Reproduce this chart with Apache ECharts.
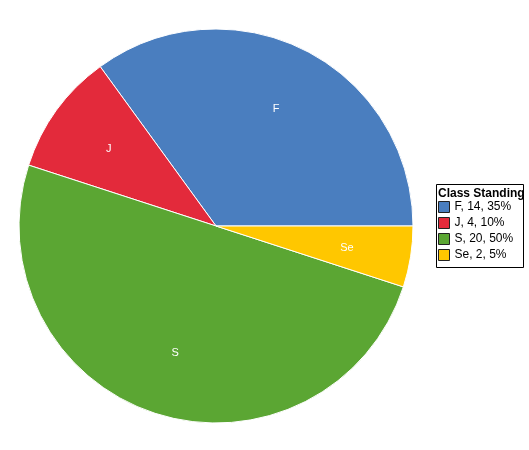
<!DOCTYPE html>
<html><head><meta charset="utf-8">
<script src="https://cdn.jsdelivr.net/npm/echarts@6/dist/echarts.min.js"></script>
<style>html,body{margin:0;padding:0;background:#fff}#c{width:529px;height:450px}</style>
</head><body><div id="c"></div>
<script>
const categories = ['F', 'J', 'S', 'Se'];
const counts = [14, 4, 20, 2];
const colors = ['#4a7ebf', '#e32a3b', '#5ba633', '#ffc700'];
const legendTitle = 'Class Standing';

const total = counts.reduce((a, b) => a + b, 0);
const data = categories.map((c, i) => ({ name: c, value: counts[i], itemStyle: { color: colors[i] } }));
const font = '"Liberation Sans", Arial, sans-serif';

const chart = echarts.init(document.getElementById('c'));
chart.setOption({
  animation: false,
  graphic: [{
    type: 'rect', silent: true, z: 0,
    shape: { x: 436.5, y: 184.5, width: 87, height: 83 },
    style: { fill: '#fff', stroke: '#000', lineWidth: 1 }
  }, {
    type: 'text', silent: true, z: 1, left: 438, top: 188,
    style: { text: legendTitle, fill: '#000', font: 'bold 12px ' + font }
  }],
  legend: {
    orient: 'vertical', left: 438, top: 201, z: 5,
    padding: 0,
    itemWidth: 11, itemHeight: 11, itemGap: 4,
    icon: 'rect',
    itemStyle: { borderColor: '#222', borderWidth: 1 },
    textStyle: { fontFamily: font, fontSize: 12, color: '#000' },
    formatter: name => {
      const i = categories.indexOf(name);
      return name + ', ' + counts[i] + ', ' + Math.round(counts[i] / total * 100) + '%';
    },
    data: categories
  },
  series: [{
    type: 'pie', center: [216, 226], radius: [0, 197],
    startAngle: 0, clockwise: false,
    label: { show: false }, labelLine: { show: false },
    itemStyle: { borderColor: '#fff', borderWidth: 1 },
    emphasis: { disabled: true },
    data: data
  }, {
    type: 'pie', center: [216, 227], radius: [62, 197],
    startAngle: 0, clockwise: false, silent: true,
    itemStyle: { color: 'transparent', borderWidth: 0 },
    label: { show: true, position: 'inside', color: '#fff', fontFamily: font, fontSize: 11, formatter: '{b}' },
    labelLine: { show: false },
    emphasis: { disabled: true },
    data: categories.map((c, i) => ({ name: c, value: counts[i] })),
    legendHoverLink: false
  }]
});
</script></body></html>
